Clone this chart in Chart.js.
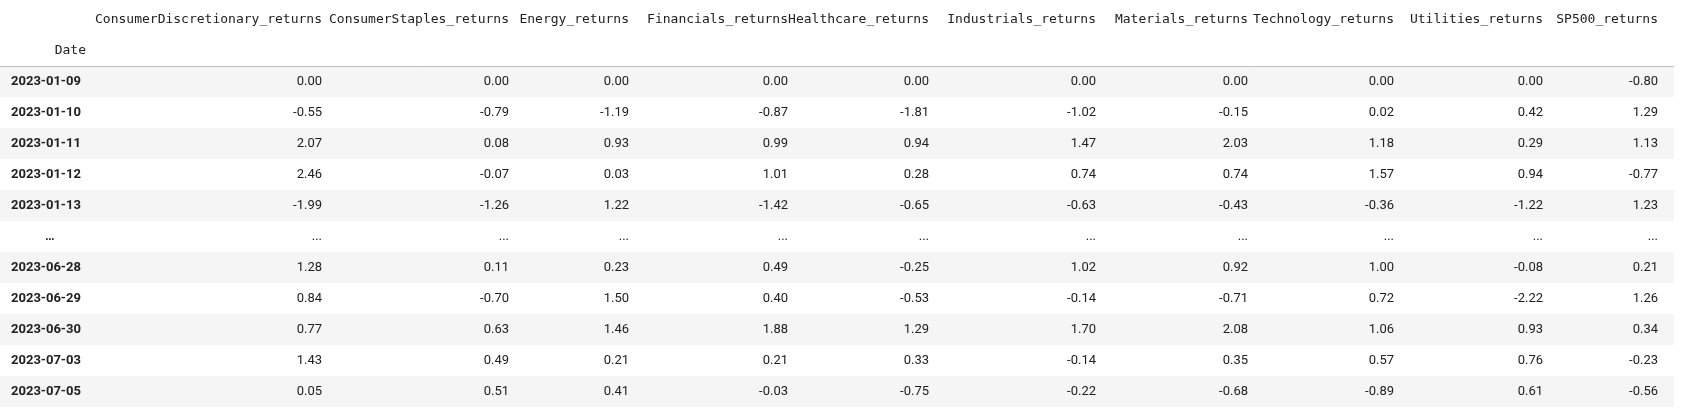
<!DOCTYPE html>
<html>
<head>
<meta charset="utf-8">
<script src="https://cdn.jsdelivr.net/npm/chart.js@4"></script>
<style>
  html, body { margin: 0; padding: 0; background: #fff; }
  #wrap { width: 1682px; height: 418px; }
</style>
</head>
<body>
<div id="wrap"><canvas id="tbl"></canvas></div>
<script>
// table contents
var columns = ['ConsumerDiscretionary_returns', 'ConsumerStaples_returns', 'Energy_returns',
  'Financials_returns', 'Healthcare_returns', 'Industrials_returns', 'Materials_returns',
  'Technology_returns', 'Utilities_returns', 'SP500_returns'];
var dates = ['2023-01-09', '2023-01-10', '2023-01-11', '2023-01-12', '2023-01-13', '...',
  '2023-06-28', '2023-06-29', '2023-06-30', '2023-07-03', '2023-07-05'];
var consumerDiscretionary = [0.00, -0.55, 2.07, 2.46, -1.99, null, 1.28, 0.84, 0.77, 1.43, 0.05];
var consumerStaples = [0.00, -0.79, 0.08, -0.07, -1.26, null, 0.11, -0.70, 0.63, 0.49, 0.51];
var energy = [0.00, -1.19, 0.93, 0.03, 1.22, null, 0.23, 1.50, 1.46, 0.21, 0.41];
var financials = [0.00, -0.87, 0.99, 1.01, -1.42, null, 0.49, 0.40, 1.88, 0.21, -0.03];
var healthcare = [0.00, -1.81, 0.94, 0.28, -0.65, null, -0.25, -0.53, 1.29, 0.33, -0.75];
var industrials = [0.00, -1.02, 1.47, 0.74, -0.63, null, 1.02, -0.14, 1.70, -0.14, -0.22];
var materials = [0.00, -0.15, 2.03, 0.74, -0.43, null, 0.92, -0.71, 2.08, 0.35, -0.68];
var technology = [0.00, 0.02, 1.18, 1.57, -0.36, null, 1.00, 0.72, 1.06, 0.57, -0.89];
var utilities = [0.00, 0.42, 0.29, 0.94, -1.22, null, -0.08, -2.22, 0.93, 0.76, 0.61];
var sp500 = [-0.80, 1.29, 1.13, -0.77, 1.23, null, 0.21, 1.26, 0.34, -0.23, -0.56];
var series = [consumerDiscretionary, consumerStaples, energy, financials, healthcare,
  industrials, materials, technology, utilities, sp500];

// layout: right edge of each column, in canvas px
var colRight = [322, 509, 629, 788, 929, 1096, 1248, 1394, 1543, 1658];
var tableRight = 1674;
var rowLabels = ['head', 'Date'].concat(dates);

var tablePlugin = {
  id: 'tablePlugin',
  beforeDatasetsDraw: function(chart) {
    var ctx = chart.ctx, x = chart.scales.x, y = chart.scales.y;
    var band = Math.abs(y.getPixelForValue(1) - y.getPixelForValue(0));
    ctx.save();
    // striped rows
    for (var r = 0; r < dates.length; r += 2) {
      var cy = y.getPixelForValue(r + 2);
      ctx.fillStyle = '#f5f5f5';
      ctx.fillRect(x.getPixelForValue(0), cy - band / 2, x.getPixelForValue(tableRight), band);
    }
    // header rule
    var ly = Math.round(y.getPixelForValue(1) + band / 2) + 0.5;
    ctx.strokeStyle = '#bdbdbd';
    ctx.lineWidth = 1;
    ctx.beginPath();
    ctx.moveTo(x.getPixelForValue(0), ly);
    ctx.lineTo(x.getPixelForValue(tableRight), ly);
    ctx.stroke();

    ctx.textBaseline = 'middle';
    ctx.fillStyle = '#212121';
    ctx.textAlign = 'right';
    ctx.font = '13px "DejaVu Sans Mono", monospace';
    columns.forEach(function(c, i) {
      ctx.fillText(c, x.getPixelForValue(colRight[i]), y.getPixelForValue(0));
    });
    ctx.fillText('Date', x.getPixelForValue(86), y.getPixelForValue(1));

    ctx.font = 'bold 13px Roboto, "Noto Sans", sans-serif';
    ctx.textAlign = 'left';
    dates.forEach(function(d, r) {
      var label = d === '...' ? '…' : d;
      var px = d === '...' ? 45 : 11;
      ctx.fillText(label, x.getPixelForValue(px), y.getPixelForValue(r + 2));
    });

    ctx.font = '13px Roboto, "Noto Sans", sans-serif';
    ctx.textAlign = 'right';
    series.forEach(function(vals, i) {
      vals.forEach(function(v, r) {
        var txt = v === null ? '...' : v.toFixed(2);
        ctx.fillText(txt, x.getPixelForValue(colRight[i]), y.getPixelForValue(r + 2));
      });
    });
    ctx.restore();
  }
};

new Chart(document.getElementById('tbl'), {
  type: 'scatter',
  data: { datasets: [{ data: [], pointRadius: 0 }] },
  options: {
    responsive: true,
    maintainAspectRatio: false,
    animation: false,
    layout: { padding: { top: 4, bottom: 11, left: 0, right: 0 } },
    plugins: { legend: { display: false }, tooltip: { enabled: false } },
    scales: {
      x: { type: 'linear', min: 0, max: 1682, display: false },
      y: { type: 'category', labels: rowLabels, offset: true, display: false }
    }
  },
  plugins: [tablePlugin]
});
</script>
</body>
</html>
